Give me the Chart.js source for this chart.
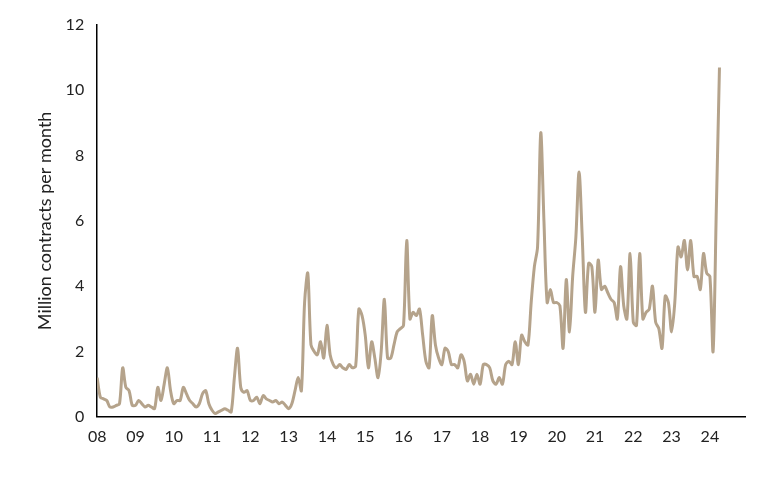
<!DOCTYPE html>
<html>
<head>
<meta charset="utf-8">
<script src="https://cdn.jsdelivr.net/npm/chart.js@4"></script>
<style>
  html, body { margin: 0; padding: 0; background: #fff; }
  #wrap { width: 776px; height: 477px; }
</style>
</head>
<body>
<div id="wrap"><canvas id="chart"></canvas></div>
<script>
// Monthly values, Jan 2008 onwards (million contracts)
const years = ['08','09','10','11','12','13','14','15','16','17','18','19','20','21','22','23','24'];
const v2008 = [1.2, 0.6, 0.55, 0.5, 0.3, 0.3, 0.35, 0.4, 1.5, 0.9, 0.8, 0.35];
const v2009 = [0.35, 0.5, 0.4, 0.3, 0.35, 0.3, 0.25, 0.9, 0.5, 1.0, 1.5, 0.8];
const v2010 = [0.4, 0.5, 0.5, 0.9, 0.7, 0.5, 0.4, 0.3, 0.4, 0.7, 0.8, 0.4];
const v2011 = [0.2, 0.1, 0.15, 0.2, 0.25, 0.2, 0.15, 1.2, 2.1, 0.9, 0.75, 0.8];
const v2012 = [0.5, 0.5, 0.6, 0.4, 0.65, 0.55, 0.5, 0.45, 0.5, 0.4, 0.45, 0.35];
const v2013 = [0.25, 0.4, 0.8, 1.2, 0.8, 3.5, 4.4, 2.2, 2.0, 1.9, 2.3, 1.8];
const v2014 = [2.8, 1.9, 1.6, 1.5, 1.6, 1.5, 1.45, 1.6, 1.5, 1.55, 3.3, 3.1];
const v2015 = [2.5, 1.5, 2.3, 1.8, 1.2, 2.0, 3.6, 1.8, 1.8, 2.2, 2.6, 2.7];
const v2016 = [2.8, 5.4, 3.0, 3.2, 3.1, 3.3, 2.5, 1.7, 1.5, 3.1, 2.2, 1.8];
const v2017 = [1.6, 2.1, 2.0, 1.6, 1.6, 1.5, 1.9, 1.7, 1.1, 1.3, 1.0, 1.3];
const v2018 = [1.0, 1.6, 1.6, 1.5, 1.1, 1.0, 1.2, 1.0, 1.6, 1.7, 1.6, 2.3];
const v2019 = [1.6, 2.5, 2.3, 2.2, 3.5, 4.6, 5.2, 8.7, 6.0, 3.5, 3.9, 3.5];
const v2020 = [3.5, 3.4, 2.1, 4.2, 2.6, 4.3, 5.5, 7.5, 5.5, 3.2, 4.7, 4.6];
const v2021 = [3.2, 4.8, 3.9, 4.0, 3.8, 3.6, 3.5, 3.0, 4.6, 3.4, 3.0, 5.0];
const v2022 = [2.9, 2.8, 5.0, 3.0, 3.2, 3.3, 4.0, 2.9, 2.7, 2.1, 3.7, 3.5];
const v2023 = [2.6, 3.5, 5.2, 4.9, 5.4, 4.5, 5.4, 4.3, 4.3, 3.9, 5.0, 4.4];
const v2024 = [4.3, 2.0, 6.3, 10.7];

const values = [].concat(v2008, v2009, v2010, v2011, v2012, v2013, v2014, v2015,
  v2016, v2017, v2018, v2019, v2020, v2021, v2022, v2023, v2024);
const points = values.map((v, i) => ({ x: i, y: v }));

const font = { family: 'Lato, "Open Sans", sans-serif', size: 16 };

new Chart(document.getElementById('chart'), {
  type: 'line',
  data: {
    datasets: [{
      data: points,
      borderColor: '#b5a38b',
      borderWidth: 3,
      pointRadius: 0,
      tension: 0.3,
      fill: false
    }]
  },
  options: {
    responsive: true,
    maintainAspectRatio: false,
    animation: false,
    layout: { padding: { top: 25, right: 31, left: 30, bottom: 28 } },
    plugins: { legend: { display: false }, tooltip: { enabled: false } },
    scales: {
      x: {
        type: 'linear',
        min: 0,
        max: 203,
        afterBuildTicks: axis => {
          axis.ticks = years.map((y, i) => ({ value: i * 12 }));
        },
        ticks: {
          color: '#222', font: font, maxRotation: 0, autoSkip: false,
          callback: v => years[v / 12]
        },
        grid: { display: false, drawTicks: true, tickLength: 7, tickColor: '#000' },
        border: { color: '#000', width: 1.5 }
      },
      y: {
        min: 0,
        max: 12,
        ticks: { stepSize: 2, color: '#222', font: font, padding: 6 },
        grid: { display: false, drawTicks: true, tickLength: 7, tickColor: '#000' },
        border: { color: '#000', width: 1.5 },
        title: { display: true, text: 'Million contracts per month', color: '#222', font: { family: font.family, size: 18 } }
      }
    }
  }
});
</script>
</body>
</html>
